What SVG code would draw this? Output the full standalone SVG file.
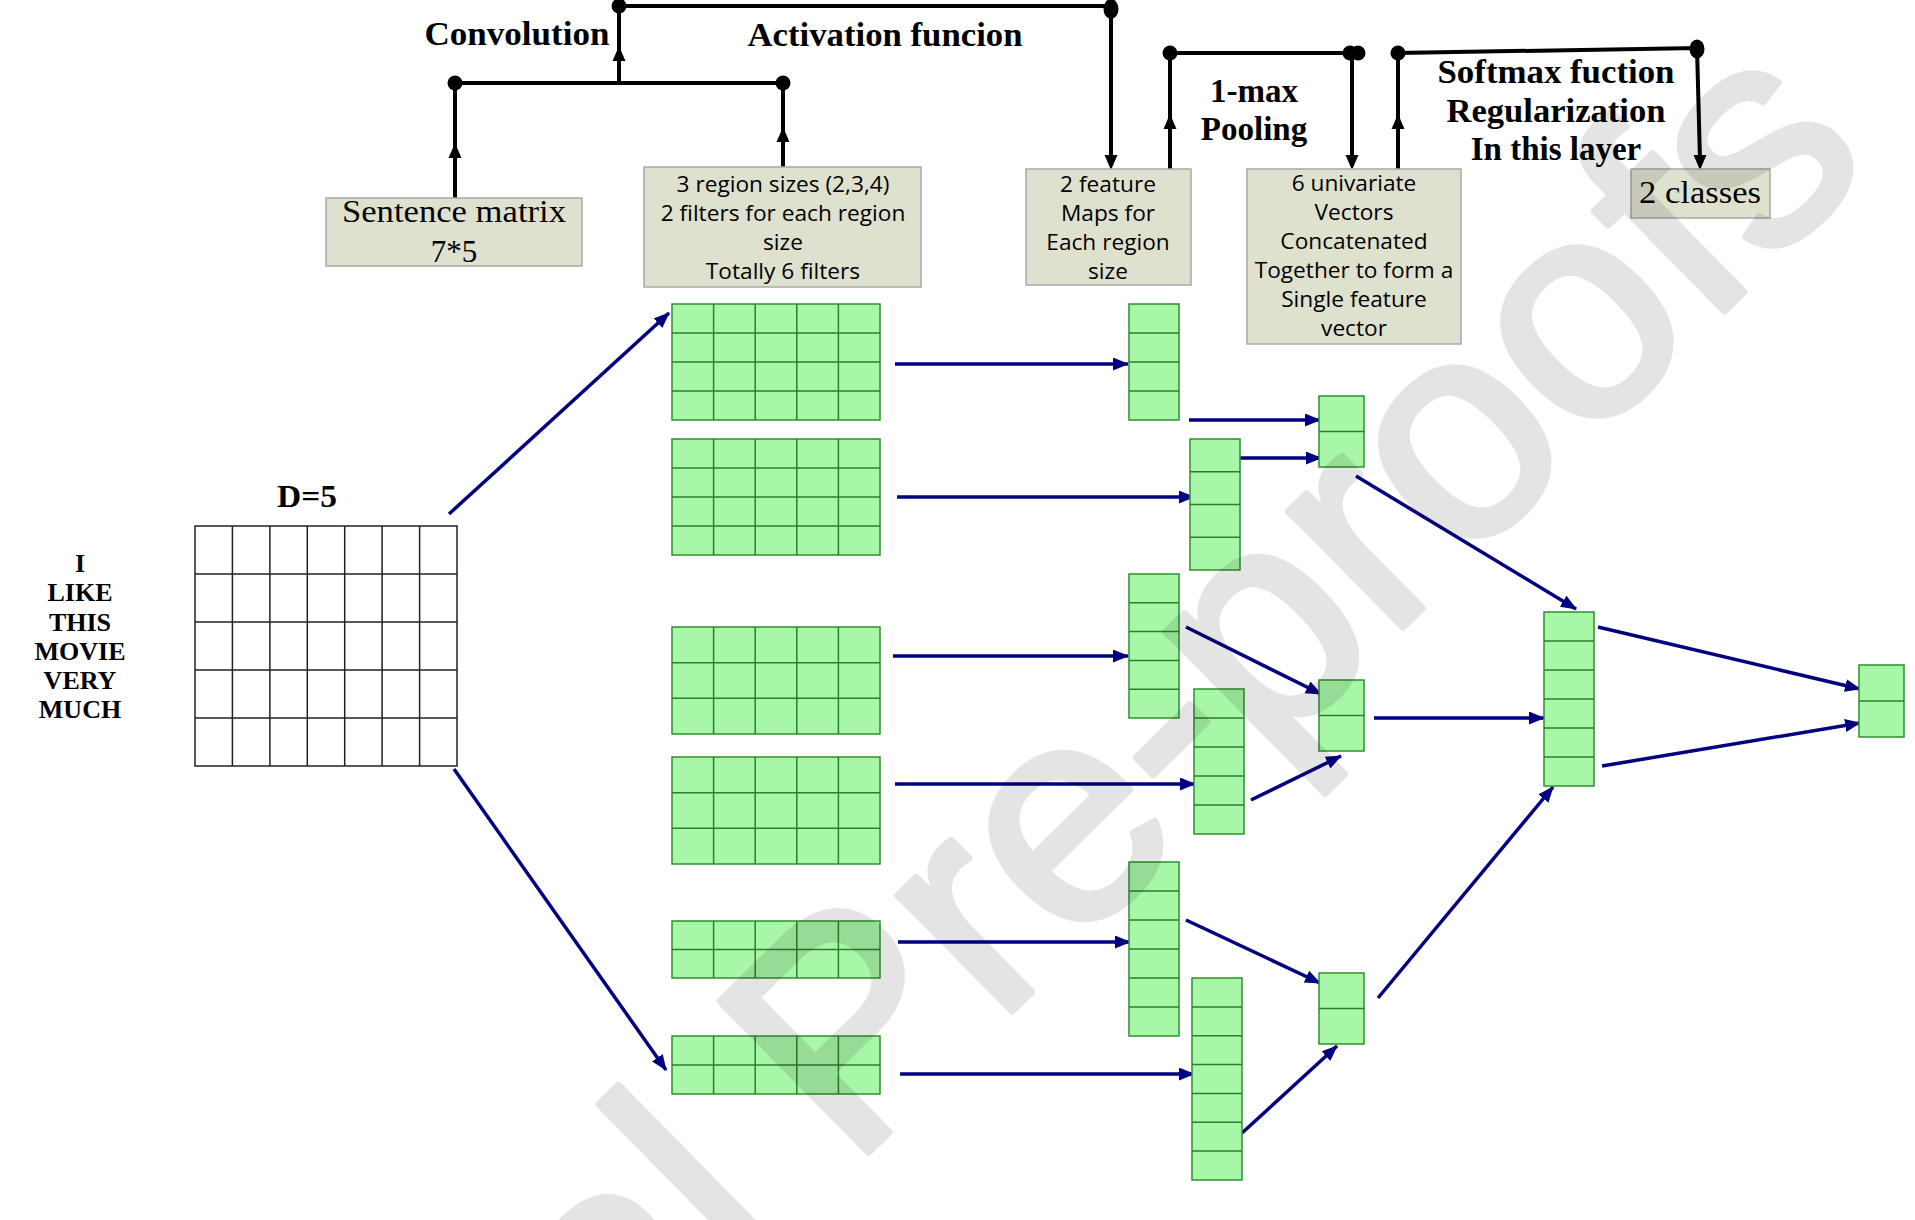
<svg xmlns="http://www.w3.org/2000/svg" xmlns:xlink="http://www.w3.org/1999/xlink" width="1915" height="1220" viewBox="0 0 1915 1220">
<defs>
<style>
.box{fill:#dfe1cf;stroke:#a8a8a8;stroke-width:1.5}
.g{fill:#a8f7a8;stroke:#2f8f2f;stroke-width:1.5}
.gl{fill:none;stroke:#2a802a;stroke-width:1.5}
.wg{fill:#fff;stroke:#222;stroke-width:1.5}
.blk{stroke:#000;stroke-width:4;fill:none}
.nav{stroke:#000080;stroke-width:3.5;fill:none;marker-end:url(#na)}
.tb{font-family:"Liberation Serif","Times New Roman",serif;font-weight:bold;fill:#000;text-anchor:middle}
.tr{font-family:"Liberation Serif","Times New Roman",serif;fill:#000;text-anchor:middle}
.ts{font-family:"Open Sans","Noto Sans","Liberation Sans",sans-serif;font-size:21px;fill:#000;text-anchor:middle}
.wm{font-family:"Liberation Sans",Arial,sans-serif;font-size:308px;fill:#000;stroke:#000;stroke-width:7;stroke-linejoin:round}
</style>
<marker id="na" markerUnits="userSpaceOnUse" markerWidth="18" markerHeight="14" refX="15" refY="6.5" orient="auto">
<path d="M0,0 L16,6.5 L0,13 z" fill="#000080"/>
</marker>
<path id="up" d="M0,0 L6.5,15 L-6.5,15 z" fill="#000"/>
<path id="dn" d="M0,0 L6.5,-15 L-6.5,-15 z" fill="#000"/>
</defs>
<rect width="1915" height="1220" fill="#fff"/>

<g id="connectors">
<path class="blk" d="M619,83 V6 H1111 V160"/>
<circle cx="619" cy="6" r="7.5"/>
<ellipse cx="1111" cy="9" rx="7.5" ry="10"/>
<use xlink:href="#dn" x="1111" y="170"/>
<use xlink:href="#up" x="619" y="46"/>
<path class="blk" d="M455,198 V83 H783 V167"/>
<circle cx="455" cy="83" r="7.5"/>
<circle cx="783" cy="83" r="7.5"/>
<use xlink:href="#up" x="455" y="143"/>
<use xlink:href="#up" x="783" y="127"/>
<path class="blk" d="M1170,169 V53 H1352 V160"/>
<circle cx="1170" cy="53" r="7.5"/>
<circle cx="1350" cy="53" r="7.5"/>
<circle cx="1358" cy="53" r="7.5"/>
<use xlink:href="#up" x="1170" y="114"/>
<use xlink:href="#dn" x="1352" y="170"/>
<path class="blk" d="M1398,169 V53 L1697,48 L1700,160"/>
<circle cx="1398" cy="53" r="7.5"/>
<ellipse cx="1697" cy="49" rx="7.5" ry="9.5"/>
<use xlink:href="#up" x="1398" y="114"/>
<use xlink:href="#dn" x="1700" y="170"/>
<line class="nav" x1="449" y1="514" x2="669" y2="313"/>
<line class="nav" x1="454" y1="769" x2="666" y2="1070"/>
<line class="nav" x1="895" y1="364" x2="1128" y2="364"/>
<line class="nav" x1="897" y1="497" x2="1194" y2="497"/>
<line class="nav" x1="893" y1="656" x2="1128" y2="656"/>
<line class="nav" x1="895" y1="784" x2="1195" y2="784"/>
<line class="nav" x1="898" y1="942" x2="1130" y2="942"/>
<line class="nav" x1="900" y1="1074" x2="1194" y2="1074"/>
<line class="nav" x1="1189" y1="420" x2="1320" y2="420"/>
<line class="nav" x1="1240" y1="458" x2="1321" y2="458"/>
<line class="nav" x1="1186" y1="627" x2="1321" y2="694"/>
<line class="nav" x1="1251" y1="800" x2="1341" y2="756"/>
<line class="nav" x1="1186" y1="920" x2="1320" y2="983"/>
<line class="nav" x1="1242" y1="1133" x2="1337" y2="1046"/>
<line class="nav" x1="1356" y1="476" x2="1576" y2="609"/>
<line class="nav" x1="1374" y1="718" x2="1544" y2="718"/>
<line class="nav" x1="1378" y1="998" x2="1553" y2="787"/>
<line class="nav" x1="1598" y1="627" x2="1860" y2="689"/>
<line class="nav" x1="1602" y1="766" x2="1860" y2="723"/>
</g>

<g id="label-convolution"><text class="tb" x="517" y="45" font-size="34" textLength="185" lengthAdjust="spacingAndGlyphs">Convolution</text></g>
<g id="label-activation"><text class="tb" x="885" y="46" font-size="34" textLength="275" lengthAdjust="spacingAndGlyphs">Activation funcion</text></g>
<g id="label-pooling">
<text class="tb" x="1254" y="102" font-size="33">1-max</text>
<text class="tb" x="1254" y="140" font-size="33">Pooling</text>
</g>
<g id="label-softmax">
<text class="tb" x="1556" y="83" font-size="33" textLength="237" lengthAdjust="spacingAndGlyphs">Softmax fuction</text>
<text class="tb" x="1556" y="122" font-size="33" textLength="219" lengthAdjust="spacingAndGlyphs">Regularization</text>
<text class="tb" x="1556" y="160" font-size="33">In this layer</text>
</g>

<g id="box-sentence">
<rect class="box" x="326" y="198" width="256" height="68"/>
<text class="tr" x="454" y="222" font-size="31" textLength="224" lengthAdjust="spacingAndGlyphs">Sentence matrix</text>
<text class="tr" x="454" y="262" font-size="31">7*5</text>
</g>
<g id="box-regions">
<rect class="box" x="644" y="167" width="277" height="120"/>
<text class="ts" transform="translate(783,0) scale(1.08,1)" x="0" y="192">3 region sizes (2,3,4)</text>
<text class="ts" transform="translate(783,0) scale(1.08,1)" x="0" y="221">2 filters for each region</text>
<text class="ts" transform="translate(783,0) scale(1.08,1)" x="0" y="250">size</text>
<text class="ts" transform="translate(783,0) scale(1.08,1)" x="0" y="279">Totally 6 filters</text>
</g>
<g id="box-featuremaps">
<rect class="box" x="1026" y="169" width="165" height="116"/>
<text class="ts" transform="translate(1108,0) scale(1.08,1)" x="0" y="192">2 feature</text>
<text class="ts" transform="translate(1108,0) scale(1.08,1)" x="0" y="221">Maps for</text>
<text class="ts" transform="translate(1108,0) scale(1.08,1)" x="0" y="250">Each region</text>
<text class="ts" transform="translate(1108,0) scale(1.08,1)" x="0" y="279">size</text>
</g>
<g id="box-univariate">
<rect class="box" x="1247" y="169" width="214" height="175"/>
<text class="ts" transform="translate(1354,0) scale(1.08,1)" x="0" y="191">6 univariate</text>
<text class="ts" transform="translate(1354,0) scale(1.08,1)" x="0" y="220">Vectors</text>
<text class="ts" transform="translate(1354,0) scale(1.08,1)" x="0" y="249">Concatenated</text>
<text class="ts" transform="translate(1354,0) scale(1.08,1)" x="0" y="278">Together to form a</text>
<text class="ts" transform="translate(1354,0) scale(1.08,1)" x="0" y="307">Single feature</text>
<text class="ts" transform="translate(1354,0) scale(1.08,1)" x="0" y="336">vector</text>
</g>
<g id="box-classes">
<rect class="box" x="1631" y="169" width="139" height="49"/>
<text class="tr" x="1700" y="203" font-size="31" textLength="122" lengthAdjust="spacingAndGlyphs">2 classes</text>
</g>

<g id="words">
<text class="tb" x="80" y="572" font-size="26">I</text>
<text class="tb" x="80" y="601" font-size="26">LIKE</text>
<text class="tb" x="80" y="631" font-size="26">THIS</text>
<text class="tb" x="80" y="660" font-size="26">MOVIE</text>
<text class="tb" x="80" y="689" font-size="26">VERY</text>
<text class="tb" x="80" y="718" font-size="26">MUCH</text>
</g>
<g id="sentence-matrix">
<text class="tb" x="307" y="507" font-size="32" textLength="60" lengthAdjust="spacingAndGlyphs">D=5</text>
<rect class="wg" x="195" y="526" width="262" height="240"/>
<path class="wg" d="M232.4,526V766 M269.9,526V766 M307.3,526V766 M344.7,526V766 M382.1,526V766 M419.6,526V766 M195,574H457 M195,622H457 M195,670H457 M195,718H457"/>
</g>

<g id="filter1"><rect class="g" x="672" y="304" width="208" height="116"/><path class="gl" d="M713.6,304V420M755.2,304V420M796.8,304V420M838.4,304V420M672,333H880M672,362H880M672,391H880"/></g>
<g id="filter2"><rect class="g" x="672" y="439" width="208" height="116"/><path class="gl" d="M713.6,439V555M755.2,439V555M796.8,439V555M838.4,439V555M672,468H880M672,497H880M672,526H880"/></g>
<g id="filter3"><rect class="g" x="672" y="627" width="208" height="107"/><path class="gl" d="M713.6,627V734M755.2,627V734M796.8,627V734M838.4,627V734M672,662.7H880M672,698.3H880"/></g>
<g id="filter4"><rect class="g" x="672" y="757" width="208" height="107"/><path class="gl" d="M713.6,757V864M755.2,757V864M796.8,757V864M838.4,757V864M672,792.7H880M672,828.3H880"/></g>
<g id="filter5"><rect class="g" x="672" y="921" width="208" height="57"/><path class="gl" d="M713.6,921V978M755.2,921V978M796.8,921V978M838.4,921V978M672,949.5H880"/></g>
<g id="filter6"><rect class="g" x="672" y="1036" width="208" height="58"/><path class="gl" d="M713.6,1036V1094M755.2,1036V1094M796.8,1036V1094M838.4,1036V1094M672,1065H880"/></g>

<g id="fmap1"><rect class="g" x="1129" y="304" width="50" height="116"/><path class="gl" d="M1129,333H1179M1129,362H1179M1129,391H1179"/></g>
<g id="fmap2"><rect class="g" x="1190" y="439" width="50" height="131"/><path class="gl" d="M1190,471.75H1240M1190,504.5H1240M1190,537.25H1240"/></g>
<g id="fmap3"><rect class="g" x="1129" y="574" width="50" height="144"/><path class="gl" d="M1129,602.8H1179M1129,631.6H1179M1129,660.4H1179M1129,689.2H1179"/></g>
<g id="fmap4"><rect class="g" x="1194" y="689" width="50" height="145"/><path class="gl" d="M1194,718H1244M1194,747H1244M1194,776H1244M1194,805H1244"/></g>
<g id="fmap5"><rect class="g" x="1129" y="862" width="50" height="174"/><path class="gl" d="M1129,891H1179M1129,920H1179M1129,949H1179M1129,978H1179M1129,1007H1179"/></g>
<g id="fmap6"><rect class="g" x="1192" y="978" width="50" height="202"/><path class="gl" d="M1192,1006.9H1242M1192,1035.7H1242M1192,1064.6H1242M1192,1093.4H1242M1192,1122.3H1242M1192,1151.1H1242"/></g>

<g id="pool1"><rect class="g" x="1319" y="396" width="45" height="71"/><path class="gl" d="M1319,431.5H1364"/></g>
<g id="pool2"><rect class="g" x="1319" y="680" width="45" height="71"/><path class="gl" d="M1319,715.5H1364"/></g>
<g id="pool3"><rect class="g" x="1319" y="973" width="45" height="71"/><path class="gl" d="M1319,1008.5H1364"/></g>

<g id="concat"><rect class="g" x="1544" y="612" width="50" height="174"/><path class="gl" d="M1544,641H1594M1544,670H1594M1544,699H1594M1544,728H1594M1544,757H1594"/></g>
<g id="output"><rect class="g" x="1859" y="665" width="45" height="72"/><path class="gl" d="M1859,701H1904"/></g>

<g id="watermark" opacity="0.1"><text class="wm" transform="translate(69,1938) rotate(-44.5)" x="0" y="0">Journal Pre-proofs</text></g>
</svg>
